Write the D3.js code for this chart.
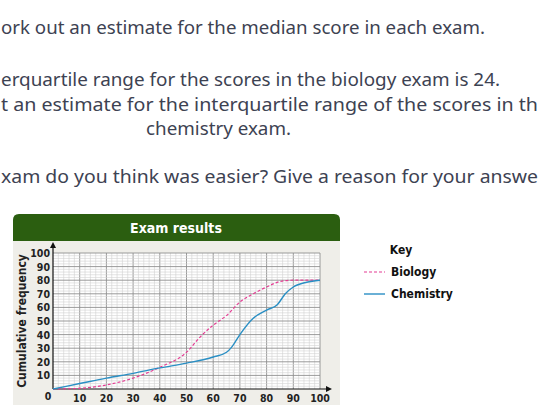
<!DOCTYPE html>
<html><head><meta charset="utf-8">
<script src="https://cdn.jsdelivr.net/npm/d3@7"></script>
<style>body{margin:0;background:#fff}svg{display:block}</style>
</head><body>
<svg id="c" width="540" height="405"></svg>
<script>
const xTicks = [10, 20, 30, 40, 50, 60, 70, 80, 90, 100];
const yTicks = [10, 20, 30, 40, 50, 60, 70, 80, 90, 100];
const biologyScore = [0, 10, 20, 30, 40, 50, 55, 60, 65, 70, 75, 80, 85, 90, 100];
const biologyFreq = [0, 0.5, 3, 8, 16, 27, 38, 47, 54, 64, 70, 75, 79, 80, 80];
const chemScore = [0, 10, 20, 30, 40, 50, 60, 65, 67, 70, 75, 80, 84, 87, 90, 95, 100];
const chemFreq = [0, 4, 8, 11.5, 15.5, 19, 23.5, 27, 31, 40, 52, 58, 62, 70, 75, 78.5, 80];

const svg = d3.select('#c');
const txt = '#3d4252';
const qfont = '"Noto Sans", sans-serif';

// question text, as much as the frame shows
const lines = [
  { t: 'ork out an estimate for the median score in each exam.', x0: 1, x1: 485, y: 34 },
  { t: 'erquartile range for the scores in the biology exam is 24.', x0: 1, x1: 500, y: 86 },
  { t: 't an estimate for the interquartile range of the scores in th', x0: 1, x1: 538, y: 111 },
  { t: 'chemistry exam.', x0: 146, x1: 291, y: 135 },
  { t: 'xam do you think was easier? Give a reason for your answe', x0: 1, x1: 538, y: 183 }
];
svg.selectAll('text.q').data(lines).enter().append('text')
  .attr('class', 'q')
  .attr('x', d => d.x0).attr('y', d => d.y)
  .attr('textLength', d => d.x1 - d.x0).attr('lengthAdjust', 'spacingAndGlyphs')
  .attr('font-family', qfont).attr('font-size', 18).attr('fill', txt)
  .text(d => d.t);

// panel
svg.append('path')
  .attr('d', 'M13,405 V220 Q13,214 19,214 H334 Q340,214 340,220 V405 Z')
  .attr('fill', '#efeee9');
svg.append('path')
  .attr('d', 'M13,241 V220 Q13,214 19,214 H334 Q340,214 340,220 V241 Z')
  .attr('fill', '#2b5e10');

const cf = '"DejaVu Sans Condensed", "Liberation Sans Narrow", sans-serif';
svg.append('text').attr('x', 176).attr('y', 233).attr('text-anchor', 'middle')
  .attr('font-family', cf).attr('font-weight', 'bold').attr('font-size', 14).attr('fill', '#fff')
  .text('Exam results');

const x = d3.scaleLinear().domain([0, 100]).range([53, 320]);
const y = d3.scaleLinear().domain([0, 100]).range([389, 253]);

const g = svg.append('g');
g.append('rect').attr('x', x(0)).attr('y', y(100)).attr('width', x(100) - x(0)).attr('height', y(0) - y(100)).attr('fill', '#fff');
const minor = d3.range(2, 101, 2);
g.selectAll('.vx').data(minor).enter().append('line')
  .attr('x1', d => x(d)).attr('x2', d => x(d)).attr('y1', y(0)).attr('y2', y(100))
  .attr('stroke', d => d % 10 === 0 ? '#8e8e8e' : '#d2d2d2').attr('stroke-width', d => d % 10 === 0 ? 0.9 : 0.6);
g.selectAll('.hy').data(minor).enter().append('line')
  .attr('y1', d => y(d)).attr('y2', d => y(d)).attr('x1', x(0)).attr('x2', x(100))
  .attr('stroke', d => d % 10 === 0 ? '#8e8e8e' : '#d2d2d2').attr('stroke-width', d => d % 10 === 0 ? 0.9 : 0.6);

// axes with arrows
const ax = '#111';
g.append('line').attr('x1', x(0)).attr('x2', x(100) + 9).attr('y1', y(0)).attr('y2', y(0)).attr('stroke', ax).attr('stroke-width', 1.2);
g.append('line').attr('x1', x(0)).attr('x2', x(0)).attr('y1', y(0)).attr('y2', y(100) - 8).attr('stroke', ax).attr('stroke-width', 1.2);
g.append('path').attr('d', `M${x(100) + 12},${y(0)} l-6,-3 v6 z`).attr('fill', ax);
g.append('path').attr('d', `M${x(0)},${y(100) - 11} l-3,6 h6 z`).attr('fill', ax);

g.selectAll('.xt').data(xTicks).enter().append('text')
  .attr('x', d => x(d)).attr('y', y(0) + 13).attr('text-anchor', 'middle')
  .attr('font-family', cf).attr('font-weight', 'bold').attr('font-size', 10.5).attr('fill', '#222').text(d => d);
g.append('text').attr('x', x(0) - 5).attr('y', y(0) + 11).attr('text-anchor', 'middle')
  .attr('font-family', cf).attr('font-weight', 'bold').attr('font-size', 10.5).attr('fill', '#222').text('0');
g.selectAll('.yt').data(yTicks).enter().append('text')
  .attr('x', x(0) - 3).attr('y', d => y(d) + 4).attr('text-anchor', 'end')
  .attr('font-family', cf).attr('font-weight', 'bold').attr('font-size', 10.5).attr('fill', '#222').text(d => d);
g.append('text').attr('transform', `translate(26,${y(50)}) rotate(-90)`).attr('text-anchor', 'middle')
  .attr('font-family', cf).attr('font-weight', 'bold').attr('font-size', 12).attr('fill', '#222').text('Cumulative frequency');

const line = d3.line().curve(d3.curveMonotoneX);
g.append('path').attr('d', line(biologyScore.map((s, i) => [x(s), y(biologyFreq[i])])))
  .attr('fill', 'none').attr('stroke', '#e43d93').attr('stroke-width', 1.2).attr('stroke-dasharray', '3,2');
g.append('path').attr('d', line(chemScore.map((s, i) => [x(s), y(chemFreq[i])])))
  .attr('fill', 'none').attr('stroke', '#2a8fc4').attr('stroke-width', 1.4);

// key
svg.append('text').attr('x', 401).attr('y', 254).attr('text-anchor', 'middle').attr('font-family', cf).attr('font-weight', 'bold').attr('font-size', 12).attr('fill', '#111').text('Key');
svg.append('line').attr('x1', 364).attr('x2', 385).attr('y1', 272).attr('y2', 272).attr('stroke', '#e43d93').attr('stroke-width', 1.2).attr('stroke-dasharray', '3,2');
svg.append('text').attr('x', 391).attr('y', 276).attr('font-family', cf).attr('font-weight', 'bold').attr('font-size', 12).attr('fill', '#111').text('Biology');
svg.append('line').attr('x1', 364).attr('x2', 385).attr('y1', 294).attr('y2', 294).attr('stroke', '#2a8fc4').attr('stroke-width', 1.4);
svg.append('text').attr('x', 391).attr('y', 298).attr('font-family', cf).attr('font-weight', 'bold').attr('font-size', 12).attr('fill', '#111').text('Chemistry');
</script>
</body></html>
